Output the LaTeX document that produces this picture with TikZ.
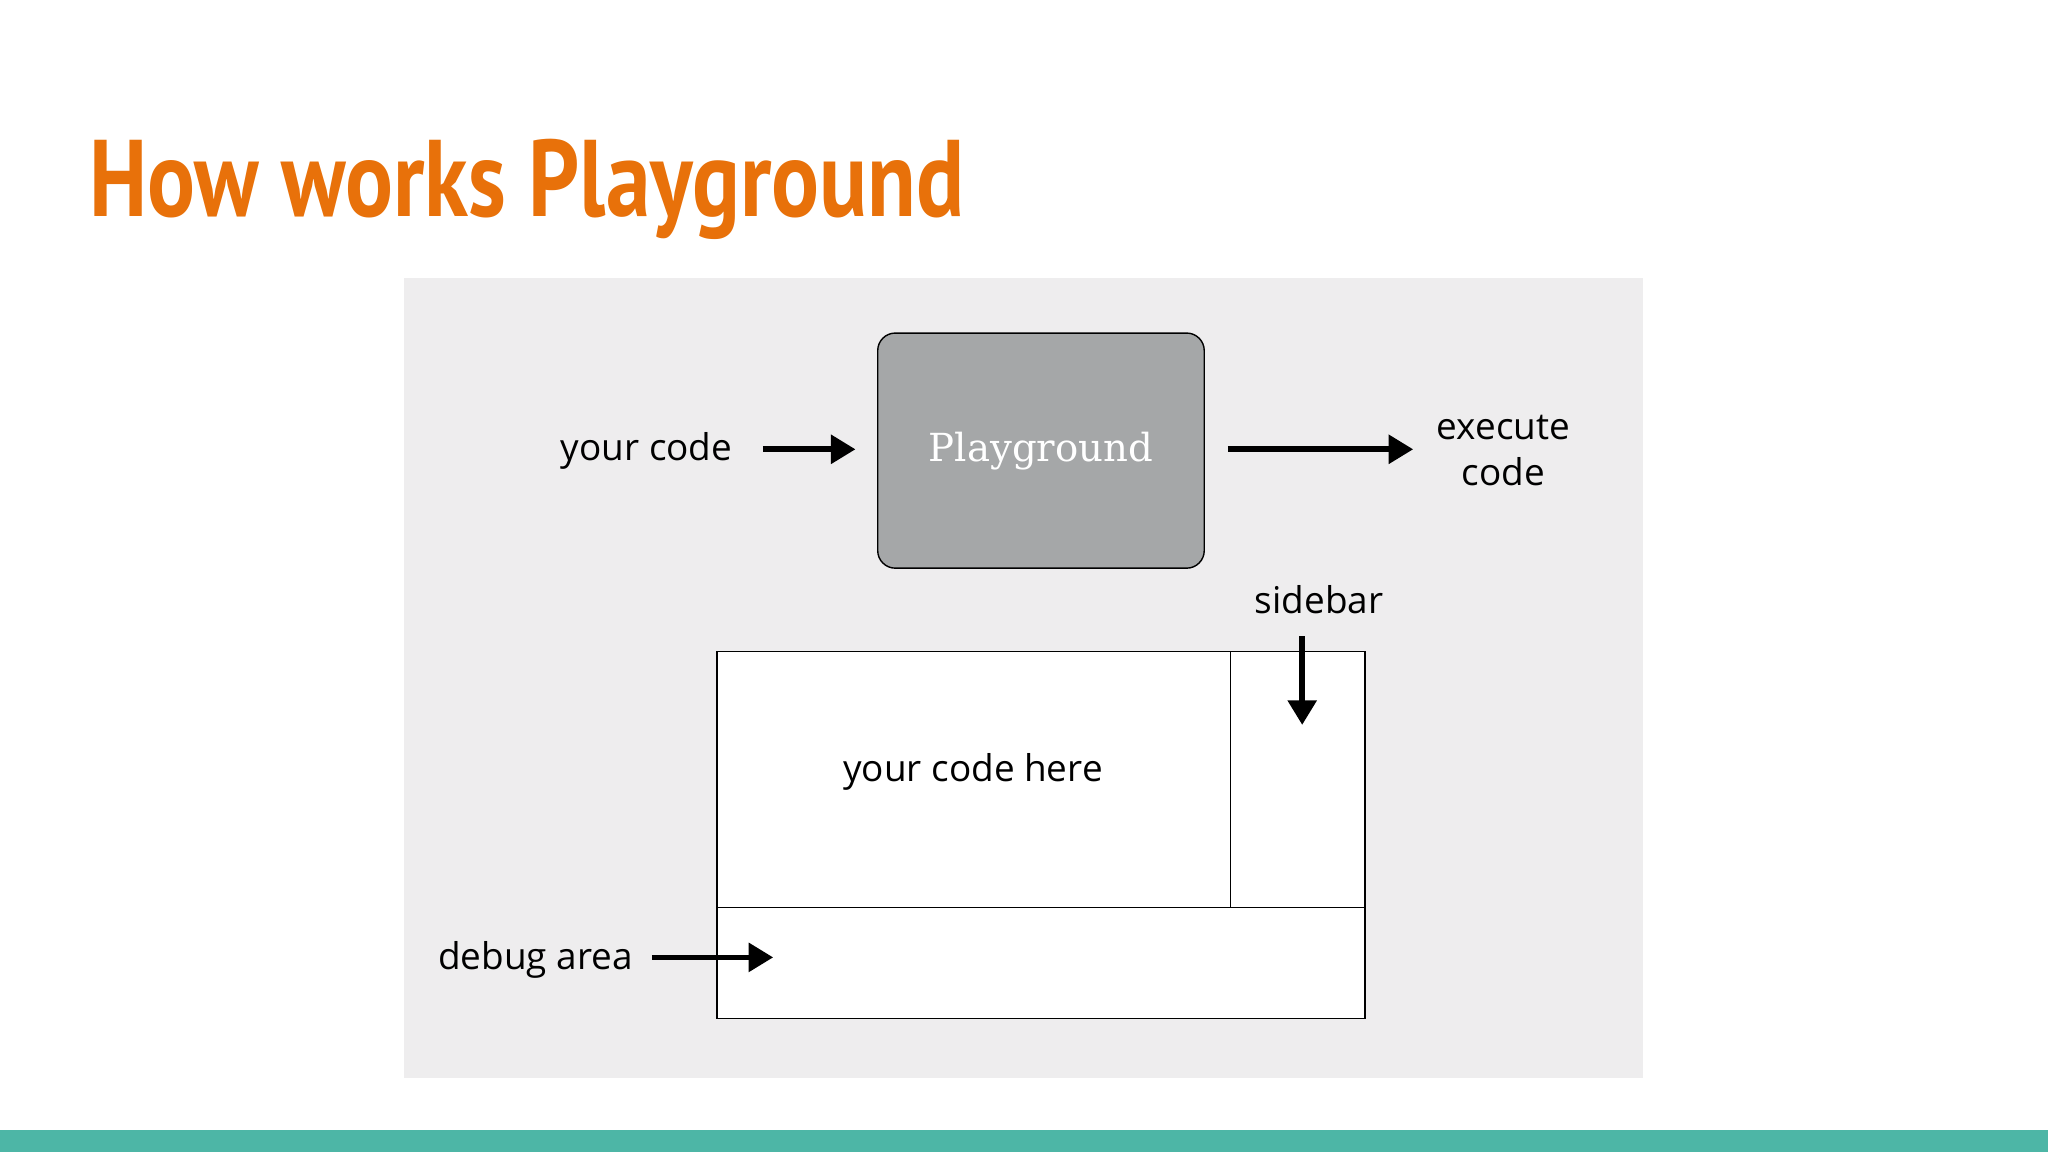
\documentclass[tikz,border=0pt]{standalone}
\usepackage{fontspec}
\setmainfont{Open Sans}
\newfontfamily\titlefont{PT Sans}
\newfontfamily\boxfont{DejaVu Serif}
\usetikzlibrary{arrows.meta}
\definecolor{titleorange}{HTML}{E8710A}
\definecolor{panelgray}{HTML}{EEEDEE}
\definecolor{boxgray}{HTML}{A5A7A8}
\definecolor{barteal}{HTML}{4DB6A6}
\tikzset{>={Triangle[length=7pt,width=8pt]}, line width=0.6pt}
\tikzset{lbl/.style={font=\fontsize{10.5}{13}\selectfont, align=center}}
\tikzset{fatarrow/.style={->, line width=1.6pt}}

\begin{document}
\begin{tikzpicture}[x=0.013061cm,y=-0.013061cm]
  \useasboundingbox (0,0) rectangle (1568,882);
  \fill[white] (0,0) rectangle (1568,882);
  \fill[barteal] (0,865) rectangle (1568,882);

  % title
  \node[anchor=base west, text=titleorange, inner sep=0pt, xscale=0.82,
        font=\titlefont\bfseries\fontsize{31}{36}\selectfont]
    (title) at (68,166) {How works Playground};

  % panel
  \fill[panelgray] (309,213) rectangle (1258,825);

  % top row
  \node[draw, rounded corners=5pt, fill=boxgray, minimum width=250*0.013061cm,
        minimum height=180*0.013061cm, text=white,
        font=\boxfont\fontsize{11}{13}\selectfont]
    (play) at (797,345) {Playground};
  \node[lbl] (yourcode) at (495,345) {your code};
  \node[lbl] (exec) at (1151,345) {execute\\code};
  \coordinate (ycstart) at (584,344);
  \coordinate (ycend) at (655,344);
  \draw[fatarrow] (ycstart) -- (ycend);
  \coordinate (exstart) at (940,344);
  \coordinate (exend) at (1082,344);
  \draw[fatarrow] (exstart) -- (exend);

  % window
  \node[draw, fill=white, minimum width=496*0.013061cm,
        minimum height=281*0.013061cm, inner sep=0pt]
    (win) at (797,639.5) {};
  \coordinate (hl) at (549,695);
  \coordinate (hr) at (1045,695);
  \coordinate (vt) at (942,499);
  \coordinate (vb) at (942,695);
  \draw (hl) -- (hr);
  \draw (vt) -- (vb);
  \node[lbl] (codehere) at (745,591) {your code here};

  % sidebar
  \node[lbl] (sidebar) at (1010,459) {sidebar};
  \coordinate (sbstart) at (997,487);
  \coordinate (sbend) at (997,555);
  \draw[fatarrow] (sbstart) -- (sbend);

  % debug area
  \node[lbl] (debug) at (410,735) {debug area};
  \coordinate (dbstart) at (499,733);
  \coordinate (dbend) at (592,733);
  \draw[fatarrow] (dbstart) -- (dbend);
\end{tikzpicture}
\end{document}
